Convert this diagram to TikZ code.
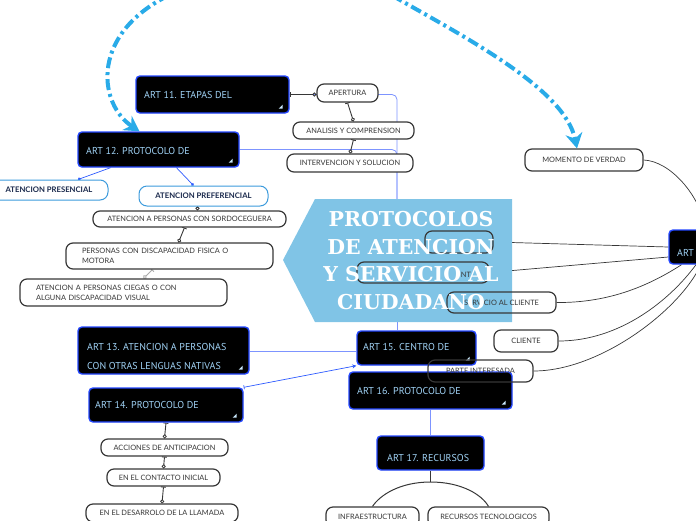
\documentclass[tikz,border=0pt]{standalone}
\usepackage{fontspec}
\setmainfont{Lato}
\newfontfamily\subfont{Lato}
\newfontfamily\artfont{PT Sans}
\newfontfamily\titlefont{DejaVu Serif}
\usetikzlibrary{arrows.meta,calc}
\definecolor{hexblue}{RGB}{128,196,230}
\definecolor{dashblue}{RGB}{41,171,232}
\definecolor{artborder}{RGB}{35,70,255}
\definecolor{arttext}{RGB}{160,210,245}
\definecolor{linkblue}{RGB}{125,148,255}
\definecolor{linkdeep}{RGB}{45,90,255}
\definecolor{darkline}{RGB}{55,55,55}
\definecolor{lightline}{RGB}{170,170,170}
\definecolor{subtext}{RGB}{55,55,55}
\definecolor{navy}{RGB}{25,40,75}
\definecolor{prefborder}{RGB}{60,155,220}
\definecolor{trifill}{RGB}{200,230,250}
\pgfdeclarelayer{bg}\pgfdeclarelayer{fg}\pgfsetlayers{bg,main,fg}
\begin{document}
\begin{tikzpicture}[x=1pt,y=-1pt,
  art/.style={draw=artborder, line width=1.4pt, fill=black, rounded corners=4pt, inner sep=0pt},
  arttxt/.style={text=arttext, font=\artfont\fontsize{10}{12}\selectfont, anchor=west, inner sep=0pt},
  sub/.style={draw=darkline, line width=1.2pt, fill=white, rounded corners=7pt, inner sep=0pt, text=subtext, font=\subfont\fontsize{7.4}{10}\selectfont},
  subnf/.style={sub, fill=none},
  pref/.style={draw=prefborder, line width=1pt, fill=white, rounded corners=8pt, inner sep=0pt, text=navy, font=\subfont\bfseries\fontsize{7.7}{9}\selectfont},
  conn/.style={draw=darkline, line width=0.9pt, {Bar[width=5pt,line width=0.9pt]}-{Circle[open,length=4pt,line width=0.8pt]}},
  blink/.style={draw=linkblue, line width=0.8pt},
  rline/.style={draw=darkline, line width=0.7pt},
  tri/.style={fill=trifill}]
\useasboundingbox (0,0) rectangle (696,520);

% main topics
\node[art, minimum width=153pt, minimum height=37pt] (art11) at (212.5,94.5) {};
\node[arttxt] (art11t) at (144,95) {ART 11. ETAPAS DEL};
\node[art, minimum width=161pt, minimum height=35pt] (art12) at (158.5,149.5) {};
\node[arttxt] (art12t) at (86,151) {ART 12. PROTOCOLO DE};
\node[art, minimum width=171pt, minimum height=47pt] (art13) at (163.5,350.5) {};
\node[arttxt] (art13a) at (87,347) {ART 13. ATENCION A PERSONAS};
\node[arttxt] (art13b) at (87,366) {CON OTRAS LENGUAS NATIVAS};
\node[art, minimum width=154pt, minimum height=34pt] (art14) at (166,405) {};
\node[arttxt] (art14t) at (95,405) {ART 14. PROTOCOLO DE};
\node[art, minimum width=119pt, minimum height=34pt] (art15) at (416.5,348) {};
\node[arttxt] (art15t) at (363,347) {ART 15. CENTRO DE};
\node[art, minimum width=163pt, minimum height=37pt] (art16) at (430.5,390.5) {};
\node[arttxt] (art16t) at (357,391) {ART 16. PROTOCOLO DE};
\node[art, minimum width=107pt, minimum height=34pt] (art17) at (430.5,453) {};
\node[arttxt] (art17t) at (387,458) {ART 17. RECURSOS};
\node[art, minimum width=80pt, minimum height=34pt] (art18) at (709,247) {};
\node[arttxt] (art18t) at (677,253) {ART};

\foreach \n in {art11,art12,art13,art14,art15,art16}
  \fill[tri] ($(\n.south east)+(-7,-5)$) -- ++(0,-4) -- ++(-4,4) -- cycle;

% sub topics
\node[sub, minimum width=61pt, minimum height=18pt] (apertura) at (347.5,93) {APERTURA};
\node[sub, minimum width=121pt, minimum height=17pt] (analisis) at (353.5,130.5) {ANALISIS Y COMPRENSION};
\node[sub, minimum width=126pt, minimum height=18pt] (interv) at (350,163) {INTERVENCION Y SOLUCION};
\node[sub, minimum width=118pt, minimum height=22pt] (momento) at (584,160) {MOMENTO DE VERDAD};
\node[subnf, minimum width=68pt, minimum height=22pt] (box1) at (459,242) {};
\node[subnf, minimum width=132pt, minimum height=21pt] (box2) at (423,272.5) {};
\node[inner sep=0pt, text=subtext, font=\subfont\fontsize{7.4}{10}\selectfont] (box2t) at (466,275) {NT};
\node[subnf, minimum width=109pt, minimum height=21pt] (serv) at (501.5,302.5) {SERVICIO AL CLIENTE};
\node[sub, minimum width=64pt, minimum height=22pt] (cliente) at (526,341) {CLIENTE};
\node[subnf, minimum width=105pt, minimum height=22pt] (parte) at (480.5,371) {PARTE INTERESADA};
\node[sub, minimum width=93pt, minimum height=20pt] (infra) at (372.5,517) {INFRAESTRUCTURA};
\node[sub, minimum width=121pt, minimum height=20pt] (recur) at (488.5,517) {RECURSOS TECNOLOGICOS};
\node[sub, minimum width=127pt, minimum height=17pt] (acciones) at (164.5,447.5) {ACCIONES DE ANTICIPACION};
\node[sub, minimum width=113pt, minimum height=17pt] (contacto) at (163.5,477.5) {EN EL CONTACTO INICIAL};
\node[sub, minimum width=152pt, minimum height=18pt] (desarrollo) at (162,513) {EN EL DESARROLO DE LA LLAMADA};
\node[sub, minimum width=193pt, minimum height=16pt] (sordo) at (189.5,219) {ATENCION A PERSONAS CON SORDOCEGUERA};
\node[sub, text width=175pt, inner xsep=16pt, align=left, minimum height=26pt] (fisica) at (169.5,256) {PERSONAS CON DISCAPACIDAD FISICA O\\MOTORA};
\node[sub, text width=175pt, inner xsep=16pt, align=left, minimum height=27pt] (ciegas) at (123.5,292.5) {ATENCION A PERSONAS CIEGAS O CON\\ALGUNA DISCAPACIDAD VISUAL};
\node[pref, minimum width=118pt, minimum height=20pt] (pres) at (49,190) {ATENCION PRESENCIAL};
\node[pref, minimum width=129pt, minimum height=20pt] (prefer) at (203.5,196) {ATENCION PREFERENCIAL};

\coordinate (ctop) at (397,199);
\coordinate (cbot) at (397,322);
\coordinate (split) at (430.5,482);

\begin{pgfonlayer}{bg}
  % blue links of the central topic
  \draw[blink, rounded corners=5pt] (art11.east) -| (ctop);
  \draw[blink, rounded corners=5pt] (art12.east) -| (ctop);
  \draw[blink] (cbot) -- (cbot |- art15.north);
  \draw[blink] (art13.east |- 0,351) -- (art15.west |- 0,351);
  \draw[draw=linkdeep, line width=0.7pt, {Bar[width=4pt]}-{Stealth[length=4pt,width=4pt]}] (art14.north east) -- (art15.south west);
  \draw[draw=linkdeep, line width=0.7pt, -{Circle[length=3pt]}] ($(art12.south)+(-48,0)$) -- ($(pres.north)+(29,0)$);
  \draw[draw=linkdeep, line width=0.7pt, -{Circle[length=3pt]}] ($(art12.south)+(18,0)$) -- ($(prefer.north)+(-10,0)$);
  \draw[draw=linkblue, line width=1.5pt] (art16.south) -- (art17.north);
  % grey connectors
  \draw[conn] (art11.east) -- (art11.east -| apertura.west);
  \draw[conn] (apertura.south) -- (analisis.north);
  \draw[conn] (analisis.south) -- (interv.north);
  \draw[draw=darkline, line width=0.9pt, -{Circle[open,length=4pt,line width=0.8pt]}] ($(prefer.south)+(-6,0)$) -- ($(sordo.north)+(8,0)$);
  \draw[conn] ($(sordo.south)+(-5,0)$) -- ($(fisica.north)+(9,0)$);
  \draw[conn, draw=lightline] ($(fisica.south)+(-17,0)$) -- ($(ciegas.north)+(20,0)$);
  \draw[conn] (art14.south) -- (acciones.north);
  \draw[conn] (acciones.south) -- (contacto.north);
  \draw[conn] (contacto.south) -- (desarrollo.north);
  % resources
  \draw[draw=darkline, line width=1pt] (art17.south) -- (split);
  \draw[draw=darkline, line width=1pt] (split) .. controls (400,482) and (380,495) .. (infra.north);
  \draw[draw=darkline, line width=1pt] (split) .. controls (462,482) and (482,495) .. (recur.north);
  % right topic
  \draw[rline] (momento.east) .. controls (670,161) and (700,195) .. (art18);
  \draw[rline] (box1.east) -- (art18.west);
  \draw[rline] (box2.east) -- ($(art18.west)+(0,10)$);
  \draw[rline] (serv.east) .. controls (610,303) and (650,285) .. (art18);
  \draw[rline] (cliente.east) .. controls (620,341) and (670,300) .. (art18);
  \draw[rline] (parte.east) .. controls (600,371) and (680,310) .. (art18);
  % central topic
  \fill[hexblue] (283,260) -- (315,199) -- (512,199) -- (512,322) -- (315,322) -- cycle;
\end{pgfonlayer}

\begin{pgfonlayer}{fg}
  \node[text=white, font=\titlefont\bfseries\fontsize{20.5}{27.7}\selectfont, align=center, inner sep=0pt] (title) at (411,260.5) {PROTOCOLOS\\DE ATENCION\\Y SERVICIO AL\\CIUDADANO};
  \draw[draw=dashblue, line width=4pt, dash pattern=on 11pt off 4pt on 3pt off 4pt,
        {Stealth[length=15pt,width=17pt,inset=5pt]}-{Stealth[length=15pt,width=17pt,inset=5pt]}]
    ($(art12.north)+(-19,0)$) .. controls (100,105) and (90,40) .. (160,0)
      .. controls (230,-40) and (330,-40) .. (400,0)
      .. controls (470,40) and (565,90) .. ($(momento.north)+(-7,0)$);
\end{pgfonlayer}
\end{tikzpicture}
\end{document}
